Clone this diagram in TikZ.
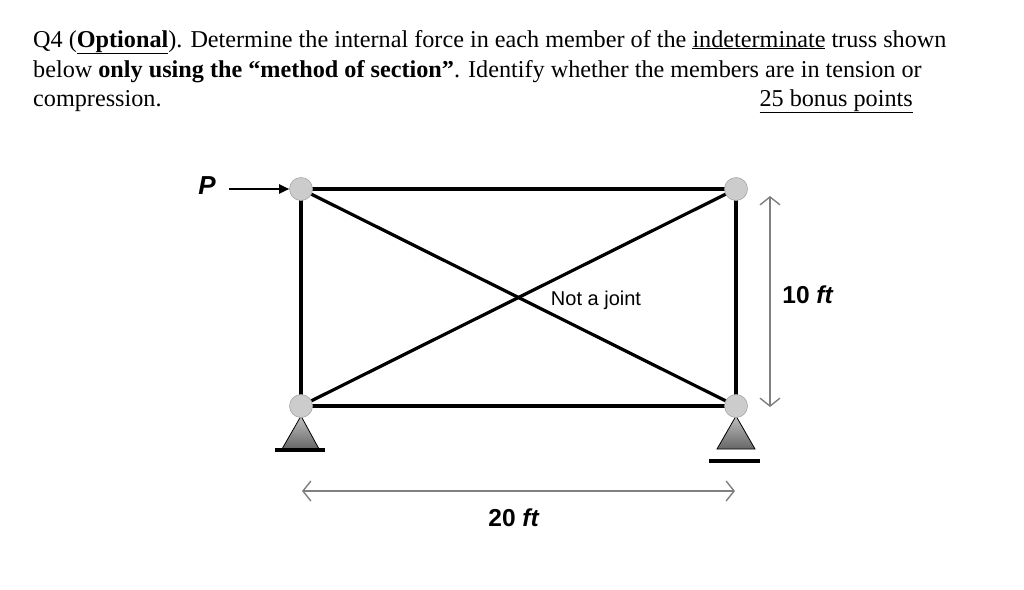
\documentclass[tikz,border=0pt]{standalone}
\usepackage{fontspec}
\setmainfont{Liberation Serif}
\setsansfont{Liberation Sans}
\usetikzlibrary{arrows.meta}
\newcommand\myul[1]{\underline{#1}}
\begin{document}
\begin{tikzpicture}[x=1pt,y=-1pt,
  member/.style={line width=3.2pt},
  joint/.style={circle,fill=gray!40,draw=gray!70,line width=0.6pt,minimum size=23pt,inner sep=0pt},
  sup/.style={draw=black,line width=0.8pt,top color=gray!50,bottom color=gray!80!black},
  dim/.style={draw=gray,line width=1.4pt,{Straight Barb[length=8pt,width=20pt]}-{Straight Barb[length=8pt,width=20pt]}},
  body/.style={anchor=base west,inner sep=0pt,font=\fontsize{24.2}{28}\selectfont},
  lab/.style={font=\sffamily\fontsize{20}{22}\selectfont,inner sep=0pt}]
\useasboundingbox (0,0) rectangle (1024,589);
\node[body] (l1) at (33,47) {Q4 (\myul{\textbf{Optional}}). Determine the internal force in each member of the \myul{indeterminate} truss shown};
\node[body] (l2) at (33,77) {below \textbf{only using the “method of section”}. Identify whether the members are in tension or};
\node[body] (l3) at (33,106) {compression.};
\node[body,anchor=base east] (l4) at (913,106) {\myul{25 bonus points}};
\coordinate (A) at (301,189); \coordinate (B) at (736,189);
\coordinate (C) at (301,406); \coordinate (D) at (736,406);
\draw[member] (A)--(B)--(D)--(C)--cycle;
\draw[member] (A)--(D); \draw[member] (C)--(B);
\draw[sup] (301,416)--(282,449)--(319,449)--cycle;
\draw[line width=3.2pt] (275,450)--(325,450);
\draw[sup] (736,416)--(717,449)--(755,449)--cycle;
\draw[line width=3.2pt] (709,461)--(760,461);
\node[joint] (jA) at (A) {}; \node[joint] (jB) at (B) {};
\node[joint] (jC) at (C) {}; \node[joint] (jD) at (D) {};
\node[lab,font=\sffamily\bfseries\itshape\fontsize{26}{28}\selectfont] (P) at (207,186) {P};
\coordinate (p0) at (229,189);
\draw[line width=2pt,-{Triangle[length=10pt,width=9pt]}] (p0)--(jA);
\draw[dim] (302,491)--(735,491);
\draw[dim] (770,196)--(770,407);
\node[lab] (nj) at (596,300) {Not a joint};
\node[lab,font=\sffamily\bfseries\fontsize{24.5}{26}\selectfont] (ten) at (808,295) {10 \textit{ft}};
\node[lab,font=\sffamily\bfseries\fontsize{24.5}{26}\selectfont] (twenty) at (514,518) {20 \textit{ft}};
\end{tikzpicture}
\end{document}
